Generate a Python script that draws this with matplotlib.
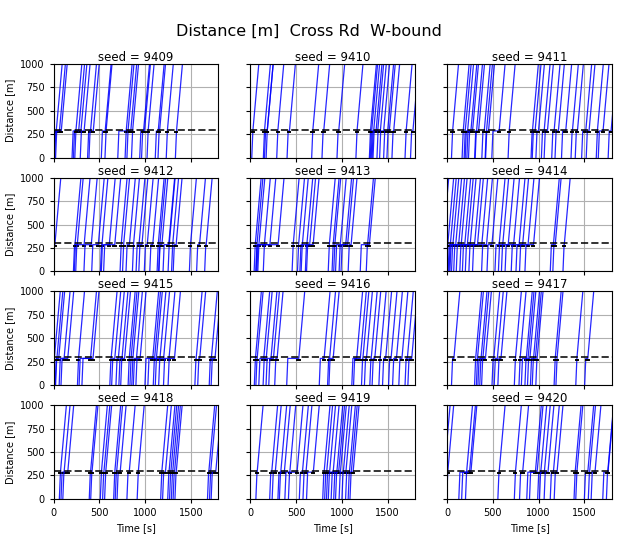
import matplotlib
matplotlib.use("Agg")
import matplotlib.pyplot as plt

# seed ids, laid out row by row
SEEDS = [9409, 9410, 9411, 9412, 9413, 9414, 9415, 9416, 9417, 9418, 9419, 9420]

# time each vehicle enters at 0 m [s] and how long it waits at the stop line [s]
T0_9409 = [0, 10, 20, 200, 215, 230, 290, 370, 385, 520, 560, 700, 780, 800, 850, 940, 960, 1020, 1110, 1140, 1230, 1330]
WAIT_9409 = [15, 40, 50, 60, 70, 0, 30, 20, 35, 30, 0, 80, 20, 30, 0, 40, 10, 0, 20, 5, 0, 0]

T0_9410 = [14, 141, 153, 171, 287, 400, 669, 782, 946, 1153, 1300, 1310, 1320, 1330, 1340, 1383, 1412, 1456, 1492, 1547, 1690, 1750]
WAIT_9410 = [0, 0, 18, 0, 0, 14, 0, 7, 7, 0, 0, 3, 15, 31, 39, 25, 32, 32, 14, 7, 0, 14]

T0_9411 = [47, 163, 185, 197, 215, 233, 300, 306, 379, 415, 420, 488, 666, 917, 930, 970, 1030, 1060, 1143, 1179, 1250, 1354, 1400, 1470, 1520, 1630, 1652, 1760]
WAIT_9411 = [0, 0, 0, 14, 32, 32, 9, 25, 14, 3, 20, 68, 0, 3, 19, 16, 18, 24, 14, 25, 34, 3, 12, 33, 19, 0, 40, 20]

T0_9412 = [-10, 215, 225, 240, 330, 415, 510, 520, 545, 725, 752, 790, 860, 900, 930, 990, 1050, 1130, 1147, 1150, 1195, 1250, 1288, 1306, 1483, 1562, 1650]
WAIT_9412 = [10, 5, 20, 80, 68, 60, 5, 75, 110, 0, 0, 25, 0, 20, 22, 20, 20, 0, 0, 20, 50, 0, 0, 20, 0, 20, 5]

T0_9413 = [40, 59, 60, 70, 80, 140, 455, 514, 540, 554, 600, 613, 850, 892, 910, 930, 969, 990, 1068, 1200, 1266]
WAIT_9413 = [0, 0, 20, 70, 120, 150, 0, 0, 15, 50, 35, 60, 0, 0, 0, 40, 60, 60, 20, 68, 22]

T0_9414 = [-60, -6, 10, 20, 30, 47, 71, 99, 138, 166, 198, 237, 277, 376, 435, 522, 560, 593, 633, 700, 752, 791, 850, 1127, 1155, 1266]
WAIT_9414 = [0, 0, 12, 30, 51, 66, 70, 81, 70, 73, 89, 82, 89, 42, 42, 34, 35, 62, 81, 74, 61, 81, 82, 22, 14, 2]

T0_9415 = [-6, 15, 20, 59, 79, 259, 277, 308, 613, 633, 680, 712, 732, 813, 833, 853, 870, 898, 997, 1029, 1088, 1110, 1147, 1200, 1250, 1543, 1574, 1700, 1721]
WAIT_9415 = [0, 7, 22, 42, 62, 0, 113, 109, 2, 22, 14, 22, 30, 0, 0, 0, 22, 34, 73, 61, 22, 39, 42, 48, 58, 2, 10, 11, 30]

T0_9416 = [42, 59, 91, 138, 170, 200, 265, 396, 752, 843, 858, 1108, 1127, 1214, 1246, 1305, 1330, 1404, 1444, 1510, 1554, 1622, 1690, 1721]
WAIT_9416 = [0, 2, 42, 22, 42, 39, 14, 120, 41, 10, 34, 41, 62, 3, 10, 3, 17, 2, 22, 15, 30, 22, 13, 30]

T0_9417 = [47, 299, 319, 336, 356, 376, 490, 514, 554, 734, 785, 811, 850, 878, 910, 930, 969, 1169, 1189, 1406, 1503]
WAIT_9417 = [14, 0, 0, 22, 22, 30, 7, 22, 22, 0, 0, 42, 22, 14, 22, 22, 2, 0, 0, 0, 22]

T0_9418 = [61, 79, 99, 388, 404, 509, 534, 556, 655, 672, 692, 800, 912, 1169, 1190, 1246, 1266, 1286, 1305, 1325, 1681, 1703, 1721]
WAIT_9418 = [0, 22, 42, 2, 2, 0, 2, 0, 0, 3, 22, 13, 0, 0, 19, 2, 2, 2, 3, 2, 2, 0, 38]

T0_9419 = [59, 210, 237, 300, 316, 376, 415, 534, 574, 613, 790, 811, 831, 851, 882, 910, 930, 969, 1000, 1040, 1068, 1088]
WAIT_9419 = [2, 10, 22, 19, 42, 42, 82, 22, 21, 62, 3, 10, 22, 41, 50, 42, 41, 34, 31, 30, 22, 22]

T0_9420 = [-45, -6, 127, 158, 200, 554, 734, 791, 870, 900, 989, 1009, 1060, 1127, 1170, 1387, 1406, 1500, 1543, 1574, 1701, 1741]
WAIT_9420 = [0, 0, 73, 74, 47, 2, 0, 22, 82, 71, 22, 41, 30, 22, 19, 0, 0, 25, 2, 30, 42, 5]

T0 = [T0_9409, T0_9410, T0_9411, T0_9412, T0_9413, T0_9414,
      T0_9415, T0_9416, T0_9417, T0_9418, T0_9419, T0_9420]
WAIT = [WAIT_9409, WAIT_9410, WAIT_9411, WAIT_9412, WAIT_9413, WAIT_9414,
        WAIT_9415, WAIT_9416, WAIT_9417, WAIT_9418, WAIT_9419, WAIT_9420]

STOP_LINE = 300      # dashed reference line [m]
STOP_POS = 285       # where vehicles halt [m]
MARK_POS = 272       # black stop mark [m]
ROAD_END = 1000      # [m]
APPROACH_S = 12      # time 0 m -> stop position [s]
DEPART_S = 65        # time stop position -> road end [s]


def draw_panel(ax, seed, t0s, waits):
    for t0, w in zip(t0s, waits):
        t_arr = t0 + APPROACH_S
        t_dep = t_arr + w
        ax.plot([t0, t_arr, t_dep, t_dep + DEPART_S],
                [0, STOP_POS, STOP_POS, ROAD_END],
                color="b", lw=0.9, alpha=0.85)
        ax.plot([t_dep - 14, t_dep + 10], [MARK_POS, MARK_POS],
                color="k", lw=1.4)
    ax.axhline(STOP_LINE, color="k", ls="--", lw=1.4, alpha=0.8)
    ax.set_title(f"seed = {seed}", fontsize=8.5, pad=2)
    ax.set_xlim(0, 1800)
    ax.set_ylim(0, 1000)
    ax.set_xticks([0, 500, 1000, 1500])
    ax.set_yticks([0, 250, 500, 750, 1000])
    ax.grid(True, color="#b0b0b0", lw=0.8)
    ax.tick_params(labelsize=7, length=3)


fig, axes = plt.subplots(4, 3, figsize=(6.18, 5.37), dpi=100, sharex=True, sharey=True)
fig.subplots_adjust(left=0.087, right=0.99, top=0.881, bottom=0.071, wspace=0.195, hspace=0.213)

for i, ax in enumerate(axes.flat):
    draw_panel(ax, SEEDS[i], T0[i], WAIT[i])

for ax in axes[:, 0]:
    ax.set_ylabel("Distance [m]", fontsize=7)
for ax in axes[-1, :]:
    ax.set_xlabel("Time [s]", fontsize=7)

fig.suptitle("Distance [m]  Cross Rd  W-bound", fontsize=11.5, y=0.955)

fig.savefig("out.png", dpi=100)
